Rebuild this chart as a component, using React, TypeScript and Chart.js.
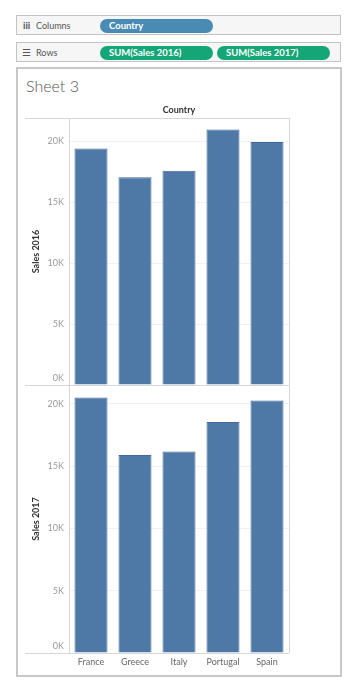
import React, { useEffect, useRef } from "react";
import { Chart, registerables } from "chart.js";

Chart.register(...registerables);

const countries = ["France", "Greece", "Italy", "Portugal", "Spain"];
const sales2016 = [19400, 17050, 17570, 20960, 19940];
const sales2017 = [20490, 15890, 16160, 18530, 20250];
const columnPills = ["Country"];
const rowPills = ["SUM(Sales 2016)", "SUM(Sales 2017)"];
const yTickValues = [0, 5000, 10000, 15000, 20000];
const axisMax2016 = 21900;
const axisMax2017 = 21500;

const FONT = "Lato, 'Open Sans', 'DejaVu Sans', sans-serif";
const BAR = "#4e79a7";
const BAR_EDGE = "#41699a";
const TICK_COLOR = "#9a9a9a";

const fmtK = (v: number) => `${v / 1000}K`;

const framePlugin = {
  id: "tabFrame",
  beforeDatasetsDraw(chart: any) {
    const { ctx, chartArea } = chart;
    const { left, right, top, bottom } = chartArea;
    const mid = chart.scales.y16.bottom;
    ctx.save();
    ctx.strokeStyle = "#d6d6d6";
    ctx.lineWidth = 1;
    for (const yy of [top, mid, bottom]) {
      ctx.beginPath();
      ctx.moveTo(8, Math.round(yy) + 0.5);
      ctx.lineTo(right, Math.round(yy) + 0.5);
      ctx.stroke();
    }
    ctx.beginPath();
    ctx.moveTo(Math.round(right) + 0.5, top);
    ctx.lineTo(Math.round(right) + 0.5, bottom);
    ctx.stroke();
    ctx.fillStyle = "#333";
    ctx.font = `bold 9px ${FONT}`;
    ctx.textAlign = "center";
    ctx.textBaseline = "middle";
    ctx.fillText("Country", (left + right) / 2, top - 8);
    // baseline labels sit just above the zero line, as in Tableau
    ctx.fillStyle = TICK_COLOR;
    ctx.font = `9px ${FONT}`;
    ctx.textAlign = "right";
    for (const id of ["y16", "y17"]) {
      const s = chart.scales[id];
      ctx.fillText(fmtK(yTickValues[0]), s.right - 5, s.getPixelForValue(yTickValues[0]) - 7);
    }
    ctx.restore();
  },
};

const yScale = (stackWeight: number, max: number, title: string) => ({
  type: "linear",
  position: "left",
  stack: "rows",
  stackWeight,
  min: 0,
  max,
  afterFit: (s: any) => {
    s.width = 52;
  },
  afterBuildTicks: (s: any) => {
    s.ticks = yTickValues.map((v) => ({ value: v }));
  },
  title: {
    display: true,
    text: title,
    color: "#333",
    font: { family: FONT, size: 9, weight: "bold" },
    padding: { top: 14, bottom: 0 },
  },
  ticks: {
    autoSkip: false,
    padding: 5,
    color: TICK_COLOR,
    font: { family: FONT, size: 9 },
    callback: (v: any) => (Number(v) === yTickValues[0] ? "" : fmtK(Number(v))),
  },
  grid: { color: "#f1f1f1", drawTicks: false },
  border: { display: true, color: "#d6d6d6" },
});

function TabChart() {
  const ref = useRef<HTMLCanvasElement | null>(null);
  useEffect(() => {
    if (!ref.current) return;
    const chart = new Chart(ref.current, {
      type: "bar",
      data: {
        labels: countries,
        datasets: [
          {
            label: "Sales 2016",
            data: sales2016,
            yAxisID: "y16",
            backgroundColor: BAR,
            borderColor: BAR_EDGE,
            borderWidth: 1,
            grouped: false,
            categoryPercentage: 1,
            barPercentage: 0.75,
          },
          {
            label: "Sales 2017",
            data: sales2017,
            yAxisID: "y17",
            backgroundColor: BAR,
            borderColor: BAR_EDGE,
            borderWidth: 1,
            grouped: false,
            categoryPercentage: 1,
            barPercentage: 0.75,
          },
        ],
      } as any,
      options: {
        animation: false,
        responsive: false,
        maintainAspectRatio: false,
        layout: { padding: { top: 21, right: 18, bottom: 0, left: 0 } },
        plugins: {
          legend: { display: false },
          tooltip: { enabled: false },
          title: { display: false },
        },
        scales: {
          x: {
            afterFit: (s: any) => {
              s.height = 19;
            },
            grid: { display: false, drawTicks: false },
            border: { display: false },
            ticks: {
              padding: 4,
              color: "#666",
              font: { family: FONT, size: 9 },
            },
          },
          y17: yScale(268, axisMax2017, "Sales 2017"),
          y16: yScale(267, axisMax2016, "Sales 2016"),
        } as any,
      },
      plugins: [framePlugin as any],
    });
    return () => chart.destroy();
  }, []);
  return (
    <canvas
      ref={ref}
      width={290}
      height={575}
      style={{ position: "absolute", left: 17, top: 97, width: 290, height: 575 }}
    />
  );
}

const shelfBox: React.CSSProperties = {
  position: "absolute",
  left: 16,
  width: 325,
  height: 20,
  border: "1px solid #c4c4c4",
  background: "#f6f6f6",
  boxSizing: "border-box",
};

const pill = (bg: string, left: number): React.CSSProperties => ({
  position: "absolute",
  left,
  top: 3,
  width: 113,
  height: 14,
  borderRadius: 7,
  background: bg,
  color: "#fff",
  fontFamily: FONT,
  fontWeight: "bold",
  fontSize: 9.5,
  lineHeight: "14px",
  paddingLeft: 9,
  boxSizing: "border-box",
});

export default function App() {
  return (
    <div
      style={{
        position: "absolute",
        left: 0,
        top: 0,
        width: 360,
        height: 692,
        background: "#fff",
        fontFamily: FONT,
        overflow: "hidden",
      }}
    >
      <div style={{ ...shelfBox, top: 15 }}>
        <span style={{ position: "absolute", left: 6, top: 3, fontSize: 9.5, fontWeight: "bold", color: "#555", lineHeight: "13px" }}>iii</span>
        <span style={{ position: "absolute", left: 19, top: 3, fontSize: 9, color: "#555", lineHeight: "13px" }}>Columns</span>
        {columnPills.map((p, i) => (
          <div key={p} style={pill("#4a8bb3", 83 + i * 117)}>{p}</div>
        ))}
      </div>
      <div style={{ ...shelfBox, top: 42 }}>
        <span style={{ position: "absolute", left: 5, top: 3, fontSize: 10, color: "#555", lineHeight: "13px", fontFamily: "'DejaVu Sans', sans-serif" }}>☰</span>
        <span style={{ position: "absolute", left: 19, top: 3, fontSize: 9, color: "#555", lineHeight: "13px" }}>Rows</span>
        {rowPills.map((p, i) => (
          <div key={p} style={pill("#15a677", 83 + i * 117)}>{p}</div>
        ))}
      </div>
      <div
        style={{
          position: "absolute",
          left: 16,
          top: 67,
          width: 326,
          height: 610,
          border: "2px solid #c8c8c8",
          boxSizing: "border-box",
        }}
      />
      <div
        style={{
          position: "absolute",
          left: 26,
          top: 76,
          fontSize: 16,
          color: "#555",
          fontWeight: 300,
          lineHeight: "20px",
        }}
      >
        Sheet 3
      </div>
      <TabChart />
    </div>
  );
}
